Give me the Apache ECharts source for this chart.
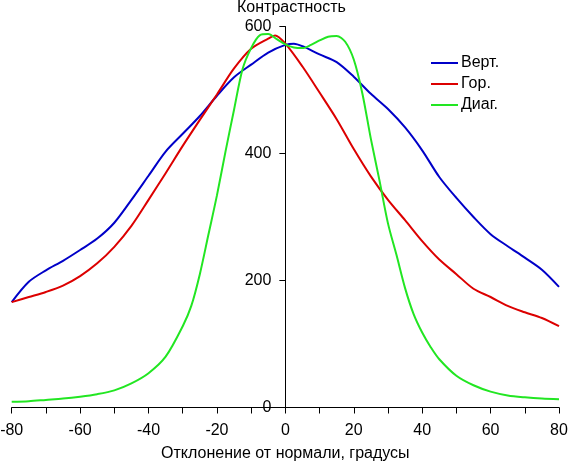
<!DOCTYPE html>
<html>
<head>
<meta charset="utf-8">
<script src="https://cdn.jsdelivr.net/npm/echarts@6/dist/echarts.min.js"></script>
<style>
html,body{margin:0;padding:0;background:#fff;}
#chart{width:568px;height:462px;}
</style>
</head>
<body>
<div id="chart"></div>
<script>
// Data
var seriesNames = ['Верт.', 'Гор.', 'Диаг.'];
var xTickLabels = ['-80', '-60', '-40', '-20', '0', '20', '40', '60', '80'];
var yTickLabels = ['0', '200', '400', '600'];

var anglesVert = [-80,-75,-70,-65,-60,-55,-50,-45,-40,-35,-30,-25,-20,-15,-10,-5,0,2.5,5,10,15,20,25,30,35,40,45,50,55,60,65,70,75,80];
var vert =       [166,198,216,231,248,266,291,327,365,403,431,459,491,520,540,559,571,573,569,556,544,521,494,470,441,405,363,330,300,273,254,236,217,190];

var anglesGor = [-80,-75,-70,-65,-60,-55,-50,-45,-40,-35,-30,-25,-20,-15,-10,-5,-3,0,5,10,15,20,25,30,35,40,45,50,55,60,65,70,75,80];
var gor =       [166,174,182,192,207,227,253,286,327,369,412,453,493,534,565,581,586,573,537,496,454,407,364,327,295,262,233,210,187,174,160,150,141,128];

var anglesDiag = [-80,-75,-70,-65,-60,-55,-50,-45,-40,-35,-30,-27.5,-25,-22.5,-20,-17.5,-15,-12.5,-10,-7.5,-5,-2.5,0,2.5,5,7.5,10,12.5,15,17.5,20,22.5,25,27.5,30,32.5,35,37.5,40,42.5,45,50,55,60,65,70,75,80];
var diag =       [9,10,12,14,17,21,27,38,54,80,128,160,210,272,334,403,469,533,566,586,588,580,572,567,566,571,578,584,585,576,548,495,423,358,290,240,188,147,118,95,76,50,35,25,19,16,14,13];

function pairs(xs, ys) {
  var out = [];
  for (var i = 0; i < xs.length; i++) out.push([xs[i], ys[i]]);
  return out;
}

var FONT = '"Liberation Sans", Arial, sans-serif';
var chart = echarts.init(document.getElementById('chart'), null, {renderer: 'canvas'});
var colors = ['#0000c8', '#dc0000', '#22e622'];

var GRID_LEFT = 11.7, GRID_RIGHT = 9;
var plotW = 568 - GRID_LEFT - GRID_RIGHT;
var zeroOffset = plotW / 2; // y axis sits at x = 0 (middle of the -80..80 range)

chart.setOption({
  animation: false,
  backgroundColor: '#ffffff',
  title: {
    text: 'Контрастность',
    left: 237,
    top: 0,
    padding: 0,
    textStyle: {fontFamily: FONT, fontSize: 16, fontWeight: 'normal', color: '#000'}
  },
  legend: {
    orient: 'vertical',
    left: 431,
    top: 55,
    icon: 'rect',
    itemWidth: 27,
    itemHeight: 2,
    itemGap: 5,
    padding: 0,
    data: seriesNames,
    textStyle: {fontFamily: FONT, fontSize: 16, color: '#000', padding: [0, 0, 0, -2]}
  },
  grid: {left: GRID_LEFT, right: GRID_RIGHT, top: 26.5, bottom: 54.5, containLabel: false, outerBoundsMode: 'none'},
  xAxis: {
    type: 'value',
    min: -80, max: 80, interval: 10,
    name: 'Отклонение от нормали, градусы',
    nameLocation: 'middle',
    nameGap: 38,
    nameTextStyle: {fontFamily: FONT, fontSize: 16, color: '#000'},
    axisLine: {onZero: false, lineStyle: {color: '#000', width: 1}},
    axisTick: {length: 6, lineStyle: {color: '#000'}},
    splitLine: {show: false},
    axisLabel: {
      margin: 15,
      fontFamily: FONT, fontSize: 16, color: '#000',
      formatter: function (v) {
        var s = String(v);
        return xTickLabels.indexOf(s) >= 0 ? s : '';
      }
    }
  },
  yAxis: {
    type: 'value',
    min: 0, max: 600, interval: 200,
    position: 'left',
    offset: -zeroOffset,
    axisLine: {show: true, onZero: false, lineStyle: {color: '#000', width: 1}},
    axisTick: {show: true, length: 6, lineStyle: {color: '#000'}},
    splitLine: {show: false},
    axisLabel: {
      margin: 14,
      fontFamily: FONT, fontSize: 16, color: '#000',
      formatter: function (v) {
        var s = String(v);
        return yTickLabels.indexOf(s) >= 0 ? s : '';
      }
    }
  },
  series: [
    {name: seriesNames[0], type: 'line', data: pairs(anglesVert, vert), symbol: 'none', smooth: 0.3,
     lineStyle: {color: colors[0], width: 2}, itemStyle: {color: colors[0]}, z: 3},
    {name: seriesNames[1], type: 'line', data: pairs(anglesGor, gor), symbol: 'none', smooth: 0.3,
     lineStyle: {color: colors[1], width: 2}, itemStyle: {color: colors[1]}, z: 4},
    {name: seriesNames[2], type: 'line', data: pairs(anglesDiag, diag), symbol: 'none', smooth: 0.3,
     lineStyle: {color: colors[2], width: 2}, itemStyle: {color: colors[2]}, z: 5}
  ]
});
</script>
</body>
</html>
